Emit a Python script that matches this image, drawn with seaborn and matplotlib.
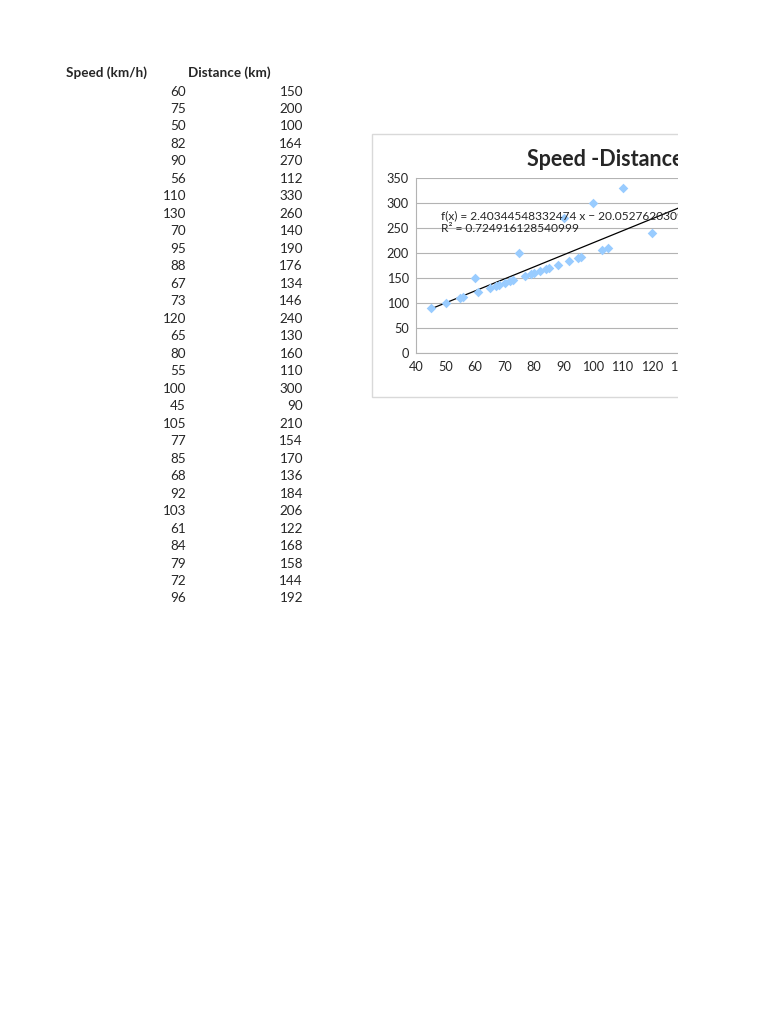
import numpy as np
import pandas as pd
import matplotlib
matplotlib.use("Agg")
import matplotlib.pyplot as plt
from matplotlib.patches import Rectangle
import seaborn as sns

# Dữ liệu bảng
speed = [60, 75, 50, 82, 90, 56, 110, 130, 70, 95, 88, 67, 73, 120, 65,
         80, 55, 100, 45, 105, 77, 85, 68, 92, 103, 61, 84, 79, 72, 96]
distance = [150, 200, 100, 164, 270, 112, 330, 260, 140, 190, 176, 134, 146, 240, 130,
            160, 110, 300, 90, 210, 154, 170, 136, 184, 206, 122, 168, 158, 144, 192]
headers = ["Speed (km/h)", "Distance (km)"]
chart_title = "Speed -Distance"
x_ticks = [40, 50, 60, 70, 80, 90, 100, 110, 120, 130, 140]
y_ticks = [0, 50, 100, 150, 200, 250, 300, 350]

df = pd.DataFrame({"speed": speed, "distance": distance})

sns.set_style("white")
plt.rcParams["font.family"] = ["Lato", "DejaVu Sans"]

W, H = 768, 1024
fig = plt.figure(figsize=(W / 100, H / 100), dpi=100)


def fx(px):
    return px / W


def fy(py):
    return 1 - py / H


# ================ Bảng dữ liệu =================
fs = 9.7
fig.text(fx(66), fy(73), headers[0], fontsize=fs, fontweight="bold", va="center", ha="left")
fig.text(fx(188), fy(73), headers[1], fontsize=fs, fontweight="bold", va="center", ha="left")
row_h = (598 - 91) / 29
for i, (s, d) in enumerate(zip(speed, distance)):
    y = fy(91.5 + i * row_h)
    fig.text(fx(186), y, str(s), fontsize=fs, va="center", ha="right")
    fig.text(fx(303), y, str(d), fontsize=fs, va="center", ha="right")

# ================ Khung biểu đồ =================
fig.add_artist(Rectangle((fx(372), fy(397)), fx(900) - fx(372), fy(134) - fy(397),
                         transform=fig.transFigure, facecolor="white",
                         edgecolor="#d9d9d9", linewidth=1.0, zorder=-1))

left, right, top, bottom = 416, 711, 178, 353
ax = fig.add_axes([fx(left), fy(bottom), fx(right) - fx(left), (bottom - top) / H])
ax.set_facecolor("none")

sns.scatterplot(data=df, x="speed", y="distance", marker="D", color="#99ccff",
                s=24, linewidth=0, ax=ax, zorder=3)
sns.regplot(data=df, x="speed", y="distance", scatter=False, ci=None, truncate=True,
            line_kws={"color": "black", "linewidth": 0.9}, ax=ax)

ax.set_xlim(x_ticks[0], x_ticks[-1])
ax.set_ylim(y_ticks[0], y_ticks[-1])
ax.set_xticks(x_ticks)
ax.set_yticks(y_ticks)
ax.set_xlabel("")
ax.set_ylabel("")
ax.grid(axis="y", color="#b3b3b3", linewidth=0.8)
ax.grid(axis="x", visible=False)
for side in ["top", "right"]:
    ax.spines[side].set_visible(False)
for side in ["left", "bottom"]:
    ax.spines[side].set_color("#b3b3b3")
    ax.spines[side].set_linewidth(0.8)
ax.tick_params(axis="y", length=2.5, width=0.8, color="#b3b3b3", pad=2.5, labelsize=9.2)
ax.tick_params(axis="x", length=0, pad=6, labelsize=9.2)
ax.set_axisbelow(True)

eq_fs = 8.6
slope, intercept = np.polyfit(speed, distance, 1)
r2 = np.corrcoef(speed, distance)[0, 1] ** 2
ax.text(fx(441), fy(216), f"f(x) = {slope:.15g} x \u2212 {abs(intercept):.15g}",
        transform=fig.transFigure, fontsize=eq_fs, va="center", ha="left", zorder=5)
ax.text(fx(441), fy(229), f"R\u00b2 = {r2:.15g}",
        transform=fig.transFigure, fontsize=eq_fs, va="center", ha="left", zorder=5)

fig.text(fx(527), fy(160), chart_title, fontsize=15.5, fontweight="bold", va="center", ha="left")

# Cắt phần biểu đồ vượt ra ngoài trang
fig.add_artist(Rectangle((fx(678), 0), 1 - fx(678), 1, transform=fig.transFigure,
                         facecolor="white", edgecolor="none", zorder=20))

fig.savefig("out.png", dpi=100)
